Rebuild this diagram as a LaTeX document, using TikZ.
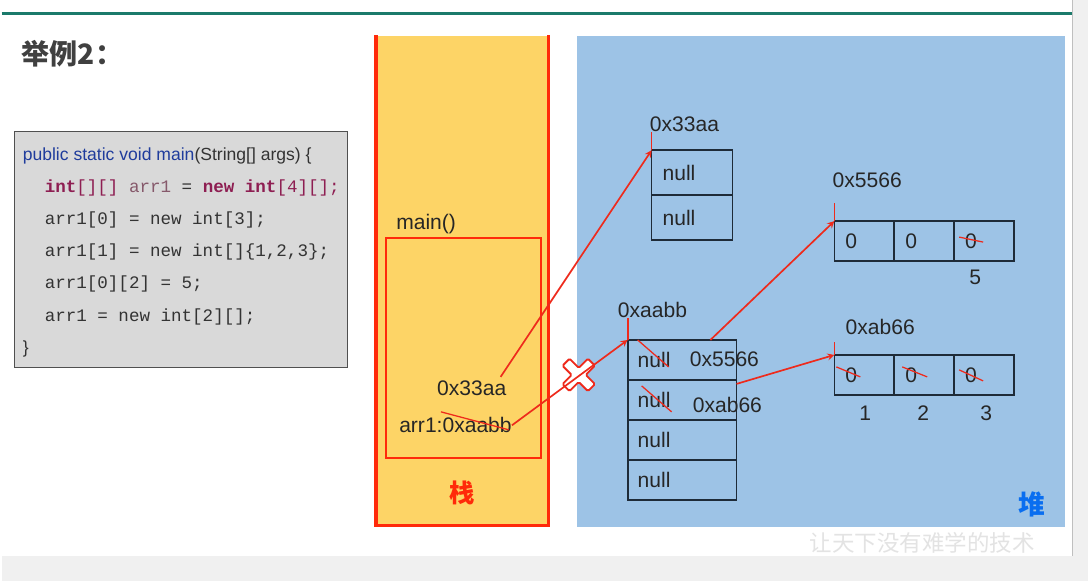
\documentclass[tikz,border=0pt]{standalone}
\usepackage{fontspec}
\setmainfont{Liberation Sans}
\setmonofont{Liberation Mono}
\newfontfamily\cjk{Noto Sans CJK SC}
\usetikzlibrary{arrows, positioning, calc}

\definecolor{stackfill}{HTML}{FDD466}
\definecolor{stackred}{HTML}{FF2A0A}
\definecolor{heapfill}{HTML}{9DC3E6}
\definecolor{linkred}{HTML}{EE2A1C}
\definecolor{cellline}{HTML}{1E2B38}
\definecolor{headteal}{HTML}{1B7A6B}
\definecolor{codebg}{HTML}{D9D9D9}
\definecolor{codeframe}{HTML}{505050}
\definecolor{kwblue}{HTML}{1F3C9C}
\definecolor{kwpink}{HTML}{8E1E52}
\definecolor{varpink}{HTML}{86596B}
\definecolor{codetext}{HTML}{333333}
\definecolor{pagegray}{HTML}{F0F0F0}
\definecolor{heapblue}{HTML}{0A6EF0}

\tikzstyle{ref} = [->, >=stealth, draw=linkred, line width=1.2pt]

\begin{document}
\begin{tikzpicture}[
                x=0.025cm, y=-0.025cm,
                every node/.style={font=\fontsize{15}{18}\selectfont, text=black!85},
                cell/.style={
                    draw=cellline,
                    line width=1.2pt,
                    outer sep=0pt,
                    align=left,
                    anchor=north west
                },
                refcell/.style={cell, minimum width=2.025cm, minimum height=1.125cm, inner xsep=0.275cm, text width=1.475cm},
                rowcell/.style={cell, minimum width=2.725cm, minimum height=1cm, inner xsep=0.25cm, text width=2.225cm},
                intcell/.style={cell, minimum width=1.5cm, minimum height=1cm, inner xsep=0.275cm, text width=0.95cm},
                addr/.style={inner sep=0pt, anchor=base west},
                idx/.style={inner sep=0pt, anchor=base},
                tick/.style={draw=linkred, line width=1.2pt},
                strike/.style={draw=linkred, line width=0.9pt},
                node distance=0pt
            ]
                % page
                \fill[pagegray] (0,0) rectangle (1088,581);
                \fill[white] (0,0) rectangle (1072,556);
                \draw[black!25, line width=0.6pt] (1072,0) -- (1072,556);
                \draw[headteal, line width=2.2pt] (0,13) -- (1072,13);
                \useasboundingbox (0,0) rectangle (1088,581);

                \node[font=\cjk\bfseries\fontsize{20}{24}\selectfont, text=black!75, anchor=west, inner sep=0pt] (title) at (20,53) {举例2：};

                % code
                \node[draw=codeframe, fill=codebg, line width=0.8pt, minimum width=8.35cm, minimum height=5.9cm, anchor=north west] (code) at (12,131) {};
                \node[anchor=north west, inner sep=0pt, align=left, text=codetext, font=\fontsize{12.5}{22.9}\selectfont] (codetxt) at (21,147) {%
                    \textcolor{kwblue}{public static void main}(String[] args) \{\\
                    \hspace*{0.55cm}\texttt{\textcolor{kwpink}{\textbf{int}[][]} \textcolor{varpink}{arr1} = \textcolor{kwpink}{\textbf{new int}[4][];}}\\
                    \hspace*{0.55cm}\texttt{arr1[0] = new int[3];}\\
                    \hspace*{0.55cm}\texttt{arr1[1] = new int[]\{1,2,3\};}\\
                    \hspace*{0.55cm}\texttt{arr1[0][2] = 5;}\\
                    \hspace*{0.55cm}\texttt{arr1 = new int[2][];}\\
                    \}};

                % stack
                \node[fill=stackfill, minimum width=4.4cm, minimum height=12.3cm, anchor=north west, inner sep=0pt] (stack) at (373,35) {};
                \draw[stackred, line width=2.6pt] ($(stack.north west)+(2,0)$) -- ($(stack.south west)+(2,-2)$) -- ($(stack.south east)+(-2,-2)$) -- ($(stack.north east)+(-2,0)$);
                \node[draw=stackred, line width=1.5pt, minimum width=3.875cm, minimum height=5.5cm, anchor=north west, inner sep=0pt] (frame) at (384,237) {};
                \node[addr] (mainlbl) at (395,229) {main()};
                \node[addr] (v33aa) at (436,396) {0x33aa};
                \node[addr] (varr) at (398,433) {arr1:0xaabb};
                \node[font=\cjk\bfseries\fontsize{18}{20}\selectfont, text=stackred] (stacklbl) at (461,493) {栈};

                % heap
                \node[fill=heapfill, minimum width=12.225cm, minimum height=12.3cm, anchor=north west, inner sep=0pt] (heap) at (576,35) {};
                \node[font=\cjk\bfseries\fontsize{19}{21}\selectfont, text=heapblue] (heaplbl) at (1032,505) {堆};

                \node[refcell] (a1) at (651,150) {null};
                \node[refcell, below=of a1] (a2) {null};
                \node[addr] (l33aa) at (649,131) {0x33aa};

                \node[rowcell] (b1) at (627,340) {null};
                \node[rowcell, below=of b1] (b2) {null};
                \node[rowcell, below=of b2] (b3) {null};
                \node[rowcell, below=of b3] (b4) {null};
                \node[addr] (laabb) at (617,318) {0xaabb};
                \node[addr] (p5566) at (689,367) {0x5566};
                \node[addr] (pab66) at (692,413) {0xab66};

                \node[intcell] (c1) at (834,221) {0};
                \node[intcell, right=of c1] (c2) {0};
                \node[intcell, right=of c2] (c3) {0};
                \node[addr] (l5566) at (832,187) {0x5566};
                \node[idx] (n5) at (975,284) {5};

                \node[intcell] (d1) at (834,355) {0};
                \node[intcell, right=of d1] (d2) {0};
                \node[intcell, right=of d2] (d3) {0};
                \node[addr] (lab66) at (845,335) {0xab66};
                \node[idx] (n1) at (865,421) {1};
                \node[idx] (n2) at (923,421) {2};
                \node[idx] (n3) at (986,421) {3};

                % cancelled link
                \begin{scope}[shift={(578,375)}, rotate=45]
                    \draw[linkred, fill=white, line width=1.3pt, rounded corners=1pt]
                        (5,5) -- (5,18) -- (-5,18) -- (-5,5) -- (-18,5) -- (-18,-5) -- (-5,-5) -- (-5,-18) -- (5,-18) -- (5,-5) -- (18,-5) -- (18,5) -- cycle;
                \end{scope}

                % links
                \draw[ref] ($(v33aa.north east)+(-6,-4)$) -- (a1.north west);
                \draw[ref] (varr.east) -- (b1.north west);
                \draw[ref] ($(b1.north west)!0.76!(b1.north east)$) -- (c1.north west);
                \draw[ref] ($(b2.north east)+(0,4)$) -- (d1.north west);

                \draw[tick] (a1.north west) -- (a1.north west |- l33aa.south);
                \draw[tick] (b1.north west) -- (b1.north west |- laabb.south);
                \draw[tick] (c1.north west) -- ++(0,-18);
                \draw[tick] (d1.north west) -- ++(0,-13);

                % old values
                \draw[strike] (440,412) -- (508,430);
                \draw[strike] (637,340) -- (668,367);
                \draw[strike] (641,386) -- (671,412);
                \draw[strike] (959,237) -- (983,242);
                \draw[strike] (836,367) -- (860,377);
                \draw[strike] (902,367) -- (927,377);
                \draw[strike] (959,370) -- (983,381);

                \node[font=\cjk\fontsize{16}{18}\selectfont, text=black!11] (mark) at (922,543) {让天下没有难学的技术};
            \end{tikzpicture}
\end{document}
